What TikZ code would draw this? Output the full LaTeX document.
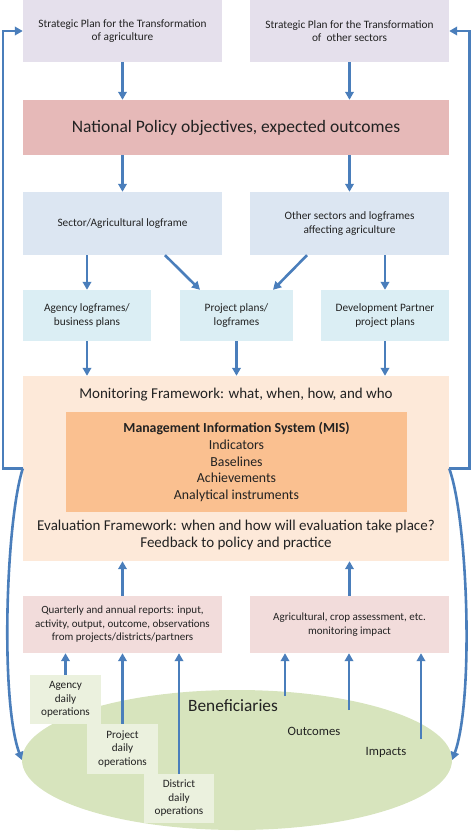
\documentclass[tikz,border=0pt]{standalone}
\usepackage{fontspec}
\setmainfont{Carlito}
\usetikzlibrary{arrows.meta,shapes.geometric}
\definecolor{arrowblue}{HTML}{4A7EBB}
\definecolor{txt}{HTML}{222222}
\definecolor{lavender}{HTML}{E5E0EC}
\definecolor{rose}{HTML}{E6B9B8}
\definecolor{paleblue}{HTML}{DCE6F2}
\definecolor{palecyan}{HTML}{DBEEF4}
\definecolor{peach}{HTML}{FDE9D9}
\definecolor{orangebox}{HTML}{FAC090}
\definecolor{pinkbox}{HTML}{F2DCDB}
\definecolor{greenell}{HTML}{D7E4BD}
\definecolor{greenbox}{HTML}{EBF1DE}
\tikzset{
  box/.style={rectangle, draw=none, inner sep=0pt, align=center, text=txt},
  fsbox/.style={font=\fontsize{11.3}{13.2}\selectfont},
  fsrep/.style={font=\fontsize{11}{13.5}\selectfont},
  fsops/.style={font=\fontsize{11.2}{13.5}\selectfont},
  arr/.style={draw=arrowblue, line width=2.6pt, -{Triangle[length=8pt,width=8.5pt]}},
  lbl/.style={inner sep=0pt, text=txt, align=center}
}
\begin{document}
\begin{tikzpicture}[x=1pt,y=-1pt]
\useasboundingbox (0,0) rectangle (474,831);
% ellipse and bottom operations
\node[ellipse, fill=greenell, minimum width=430, minimum height=140, inner sep=0pt] (ell) at (237,760) {};
\node[box, fill=greenbox, fsops, minimum width=71, minimum height=49] (agOp) at (65.5,699.5) {Agency\\daily\\operations};
\node[box, fill=greenbox, fsops, minimum width=71, minimum height=50] (prOp) at (122.5,749) {Project\\daily\\operations};
\node[box, fill=greenbox, fsops, minimum width=70, minimum height=49] (diOp) at (179,798.5) {District\\daily\\operations};
\node[lbl, font=\fontsize{17.3}{20}\selectfont] (benef) at (233,706) {Beneficiaries};
\node[lbl, font=\fontsize{12.7}{15}\selectfont] (outc) at (314,731) {Outcomes};
\node[lbl, font=\fontsize{12.7}{15}\selectfont] (imp) at (386,752) {Impacts};
% top
\node[box, fill=lavender, fsbox, minimum width=199, minimum height=62] (topL) at (122.5,31) {Strategic Plan for the Transformation\\of agriculture};
\node[box, fill=lavender, fsbox, minimum width=199, minimum height=62] (topR) at (349.5,31) {Strategic Plan for the Transformation\\of\ \ other sectors};
\node[box, fill=rose, font=\fontsize{17.5}{20}\selectfont, minimum width=426, minimum height=55] (natl) at (236,127.5) {National Policy objectives, expected outcomes};
\node[box, fill=paleblue, fsbox, minimum width=199, minimum height=63] (secL) at (122.5,223.5) {Sector/Agricultural logframe};
\node[box, fill=paleblue, fsbox, minimum width=199, minimum height=63] (secR) at (349.5,223.5) {Other sectors and logframes\\affecting agriculture};
\node[box, fill=palecyan, fsbox, minimum width=128, minimum height=51] (agency) at (87,315.5) {Agency logframes/\\business plans};
\node[box, fill=palecyan, fsbox, minimum width=113, minimum height=51] (proj) at (236.5,315.5) {Project plans/\\logframes};
\node[box, fill=palecyan, fsbox, minimum width=128, minimum height=51] (dev) at (385,315.5) {Development Partner\\project plans};
% monitoring
\node[box, fill=peach, minimum width=426, minimum height=185] (mon) at (236,468.5) {};
\node[lbl, font=\fontsize{15}{17}\selectfont] (montxt) at (236,395) {Monitoring Framework: what, when, how, and who};
\node[box, fill=orangebox, font=\fontsize{13.8}{16.6}\selectfont, minimum width=341, minimum height=100] (mis) at (236.5,462) {\textbf{Management Information System (MIS)}\\Indicators\\Baselines\\Achievements\\Analytical instruments};
\node[lbl, font=\fontsize{15}{17}\selectfont] (evtxt) at (236,534.5) {Evaluation Framework: when and how will evaluation take place?\\Feedback to policy and practice};
% reports
\node[box, fill=pinkbox, fsrep, minimum width=199, minimum height=57] (repL) at (122.5,624.5) {Quarterly and annual reports: input,\\activity, output, outcome, observations\\from projects/districts/partners};
\node[box, fill=pinkbox, fsrep, minimum width=199, minimum height=57] (repR) at (349.5,624.5) {Agricultural, crop assessment, etc.\\monitoring impact};
% free arrow ends
\coordinate (o1) at (285,696);
\coordinate (o2) at (349,710);
\coordinate (o3) at (421,739);
% arrows down
\draw[arr] (topL.south) -- (topL.south |- natl.north);
\draw[arr] (topR.south) -- (topR.south |- natl.north);
\draw[arr] (natl.south -| secL.south) -- (secL.north);
\draw[arr] (natl.south -| secR.south) -- (secR.north);
\draw[arr] (agency.north |- secL.south) -- (agency.north);
\draw[arr] ([xshift=42.5pt]secL.south) -- ([xshift=-36.5pt]proj.north);
\draw[arr] ([xshift=-42.5pt]secR.south) -- ([xshift=36.5pt]proj.north);
\draw[arr] (dev.north |- secR.south) -- (dev.north);
\draw[arr] (agency.south) -- (agency.south |- mon.north);
\draw[arr] (proj.south) -- (proj.south |- mon.north);
\draw[arr] (dev.south) -- (dev.south |- mon.north);
% arrows up
\draw[arr] (repL.north) -- (repL.north |- mon.south);
\draw[arr] (repR.north) -- (repR.north |- mon.south);
\draw[arr] (agOp.north) -- (agOp.north |- repL.south);
\draw[arr] (prOp.north) -- (prOp.north |- repL.south);
\draw[arr] (diOp.north) -- (diOp.north |- repL.south);
\draw[arr] (o1) -- (o1 |- repR.south);
\draw[arr] (o2) -- (o2 |- repR.south);
\draw[arr] (o3) -- (o3 |- repR.south);
% feedback loops
\draw[arr] (mon.west) -- ++(-20,0) |- (topL.west);
\draw[arr] (mon.east) -- ++(20,0) |- (topR.east);
\draw[arr] (mon.west) .. controls (6,520) and (0,700) .. (ell.west);
\draw[arr] (mon.east) .. controls (468,520) and (474,700) .. (ell.east);
\end{tikzpicture}
\end{document}
